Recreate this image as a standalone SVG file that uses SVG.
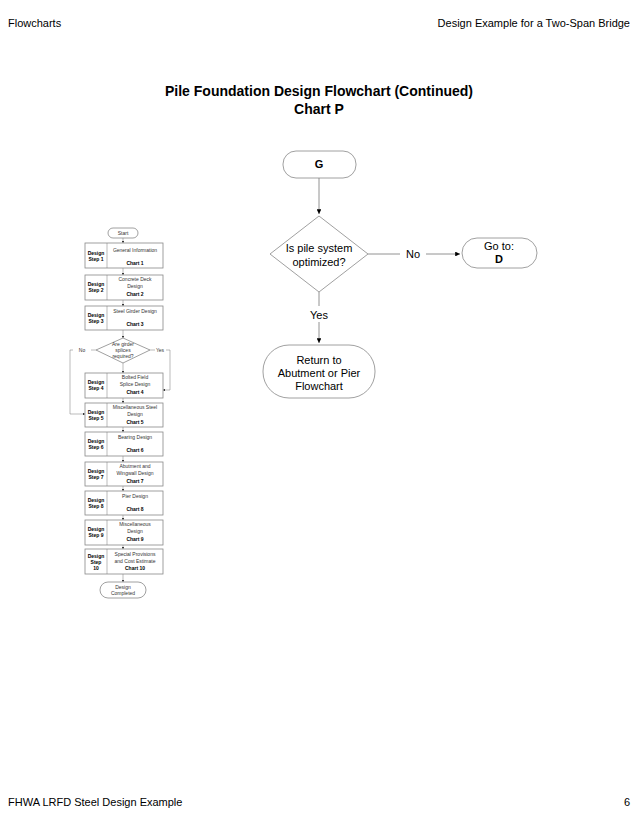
<svg xmlns="http://www.w3.org/2000/svg" width="638" height="826" viewBox="0 0 638 826">
<defs>
<marker id="a" viewBox="0 0 10 10" refX="10" refY="5" markerWidth="6" markerHeight="6" orient="auto"><path d="M0,0L10,5L0,10z" fill="#000"/></marker>
<marker id="s" viewBox="0 0 10 10" refX="10" refY="5" markerWidth="4" markerHeight="4" orient="auto"><path d="M0,0L10,5L0,10z" fill="#000"/></marker>
</defs>
<style>
text{font-family:"Liberation Sans",Arial,sans-serif}
.n{fill:#fff;stroke:#888;stroke-width:0.8}
.c{fill:none;stroke:#777;stroke-width:0.8}
.cs{fill:none;stroke:#777;stroke-width:0.5}
.m{font-size:11px;text-anchor:middle}
.t{font-size:5px;text-anchor:middle;fill:#333}
.b{font-size:5px;text-anchor:middle;font-weight:bold}
</style>
<rect width="638" height="826" fill="#fff"/>
<text x="8" y="27" font-size="11">Flowcharts</text>
<text x="630" y="27" font-size="11" text-anchor="end">Design Example for a Two-Span Bridge</text>
<text x="8" y="806" font-size="11">FHWA LRFD Steel Design Example</text>
<text x="630" y="806" font-size="11" text-anchor="end">6</text>
<text x="319" y="96" font-size="14" font-weight="bold" text-anchor="middle">Pile Foundation Design Flowchart (Continued)</text>
<text x="319" y="114" font-size="14" font-weight="bold" text-anchor="middle">Chart P</text>

<g id="connectors">
<path class="c" d="M319,178V214" marker-end="url(#a)"/>
<path class="c" d="M368,254H400M426,254H460" marker-end="url(#a)"/>
<path class="c" d="M319,292V306M319,322V343" marker-end="url(#a)"/>
<g>
<path class="cs" d="M123,238V243" marker-end="url(#s)"/>
<path class="cs" d="M123,268V275" marker-end="url(#s)"/>
<path class="cs" d="M123,300V306" marker-end="url(#s)"/>
<path class="cs" d="M123,330V338" marker-end="url(#s)"/>
<path class="cs" d="M150,350H155M166,350H170V390H163" marker-end="url(#s)"/>
<path class="cs" d="M96,350H91M73,350H70V414H85" marker-end="url(#s)"/>
<path class="cs" d="M123,363V373" marker-end="url(#s)"/>
<path class="cs" d="M123,398V403" marker-end="url(#s)"/>
<path class="cs" d="M123,427V432" marker-end="url(#s)"/>
<path class="cs" d="M123,456V462" marker-end="url(#s)"/>
<path class="cs" d="M123,486V491" marker-end="url(#s)"/>
<path class="cs" d="M123,515V520" marker-end="url(#s)"/>
<path class="cs" d="M123,545V549" marker-end="url(#s)"/>
<path class="cs" d="M123,574V582" marker-end="url(#s)"/>
</g>
</g>
<text x="413" y="258" class="m">No</text>
<text x="319" y="319" class="m">Yes</text>

<g id="G"><rect class="n" x="283" y="151" width="73" height="27" rx="13"/><text x="319" y="168" class="m" font-weight="bold">G</text></g>
<g id="dec"><path class="n" d="M319,216L368,254L319,292L270,254z"/><text x="319" y="252" class="m">Is pile system</text><text x="319" y="266" class="m">optimized?</text></g>
<g id="goto"><rect class="n" x="462" y="238" width="75" height="30" rx="15"/><text x="499" y="250" class="m">Go to:</text><text x="499" y="263" class="m" font-weight="bold">D</text></g>
<g id="ret"><rect class="n" x="263" y="345" width="112" height="53" rx="26"/><text x="319" y="364" class="m">Return to</text><text x="319" y="377" class="m">Abutment or Pier</text><text x="319" y="390" class="m">Flowchart</text></g>

<g id="start"><rect class="n" x="108" y="228" width="30" height="10" rx="5"/><text x="123" y="235" class="t">Start</text></g>
<g id="s1"><rect class="n" x="85" y="243" width="78" height="25"/><line class="cs" x1="107" y1="243" x2="107" y2="268"/><text x="96" y="255" class="b">Design</text><text x="96" y="261" class="b">Step 1</text><text x="135" y="252" class="t">General Information</text><text x="135" y="265" class="b">Chart 1</text></g>
<g id="s2"><rect class="n" x="85" y="275" width="78" height="25"/><line class="cs" x1="107" y1="275" x2="107" y2="300"/><text x="96" y="286" class="b">Design</text><text x="96" y="292" class="b">Step 2</text><text x="135" y="281" class="t">Concrete Deck</text><text x="135" y="288" class="t">Design</text><text x="135" y="296" class="b">Chart 2</text></g>
<g id="s3"><rect class="n" x="85" y="306" width="78" height="24"/><line class="cs" x1="107" y1="306" x2="107" y2="330"/><text x="96" y="317" class="b">Design</text><text x="96" y="323" class="b">Step 3</text><text x="135" y="313" class="t">Steel Girder Design</text><text x="135" y="326" class="b">Chart 3</text></g>
<g id="d1"><path class="n" d="M123,338L150,350L123,363L96,350z"/><text x="123" y="346" class="t">Are girder</text><text x="123" y="352" class="t">splices</text><text x="123" y="358" class="t">required?</text></g>
<text x="82" y="352" class="t">No</text><text x="160" y="352" class="t">Yes</text>
<g id="s4"><rect class="n" x="85" y="373" width="78" height="25"/><line class="cs" x1="107" y1="373" x2="107" y2="398"/><text x="96" y="384" class="b">Design</text><text x="96" y="390" class="b">Step 4</text><text x="135" y="379" class="t">Bolted Field</text><text x="135" y="386" class="t">Splice Design</text><text x="135" y="394" class="b">Chart 4</text></g>
<g id="s5"><rect class="n" x="85" y="403" width="78" height="24"/><line class="cs" x1="107" y1="403" x2="107" y2="427"/><text x="96" y="414" class="b">Design</text><text x="96" y="420" class="b">Step 5</text><text x="135" y="409" class="t">Miscellaneous Steel</text><text x="135" y="416" class="t">Design</text><text x="135" y="424" class="b">Chart 5</text></g>
<g id="s6"><rect class="n" x="85" y="432" width="78" height="24"/><line class="cs" x1="107" y1="432" x2="107" y2="456"/><text x="96" y="443" class="b">Design</text><text x="96" y="449" class="b">Step 6</text><text x="135" y="439" class="t">Bearing Design</text><text x="135" y="452" class="b">Chart 6</text></g>
<g id="s7"><rect class="n" x="85" y="462" width="78" height="24"/><line class="cs" x1="107" y1="462" x2="107" y2="486"/><text x="96" y="473" class="b">Design</text><text x="96" y="479" class="b">Step 7</text><text x="135" y="468" class="t">Abutment and</text><text x="135" y="475" class="t">Wingwall Design</text><text x="135" y="483" class="b">Chart 7</text></g>
<g id="s8"><rect class="n" x="85" y="491" width="78" height="24"/><line class="cs" x1="107" y1="491" x2="107" y2="515"/><text x="96" y="502" class="b">Design</text><text x="96" y="508" class="b">Step 8</text><text x="135" y="498" class="t">Pier Design</text><text x="135" y="511" class="b">Chart 8</text></g>
<g id="s9"><rect class="n" x="85" y="520" width="78" height="25"/><line class="cs" x1="107" y1="520" x2="107" y2="545"/><text x="96" y="531" class="b">Design</text><text x="96" y="537" class="b">Step 9</text><text x="135" y="526" class="t">Miscellaneous</text><text x="135" y="533" class="t">Design</text><text x="135" y="541" class="b">Chart 9</text></g>
<g id="s10"><rect class="n" x="85" y="549" width="78" height="25"/><line class="cs" x1="107" y1="549" x2="107" y2="574"/><text x="96" y="558" class="b">Design</text><text x="96" y="564" class="b">Step</text><text x="96" y="570" class="b">10</text><text x="135" y="556" class="t">Special Provisions</text><text x="135" y="563" class="t">and Cost Estimate</text><text x="135" y="570" class="b">Chart 10</text></g>
<g id="end"><rect class="n" x="100" y="582" width="46" height="16" rx="8"/><text x="123" y="589" class="t">Design</text><text x="123" y="595" class="t">Completed</text></g>
</svg>
